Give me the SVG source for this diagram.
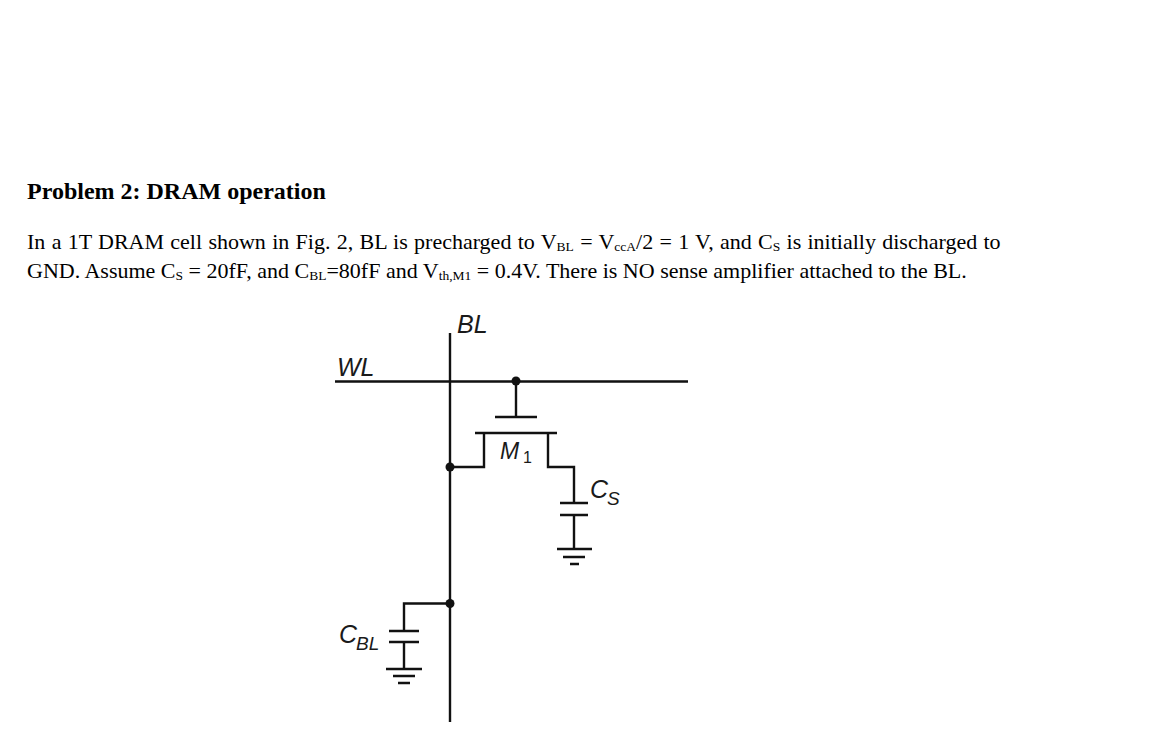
<svg xmlns="http://www.w3.org/2000/svg" width="1152" height="752" viewBox="0 0 1152 752">
<style>
.t{font-family:"Liberation Serif",serif;font-size:22px;fill:#000}
.h{font-family:"Liberation Serif",serif;font-size:24px;font-weight:bold;fill:#000}
.s{font-size:13.500px}
.l{font-family:"Liberation Sans",Arial,sans-serif;font-style:italic;fill:#1a1a1a;font-size:25px}
.w{fill:none;stroke:#111;stroke-width:2.400}
.d{fill:#111}
</style>
<rect width="1152" height="752" fill="#fff"/>
<g id="text">
<text class="h" x="27" y="199">Problem 2: DRAM operation</text>
<text class="t" x="27" y="249" word-spacing="0.800">In a 1T DRAM cell shown in Fig. 2, BL is precharged to V<tspan class="s" dy="2">BL</tspan><tspan dy="-2"> = V</tspan><tspan class="s" dy="2">ccA</tspan><tspan dy="-2">/2 = 1 V, and C</tspan><tspan class="s" dy="2">S</tspan><tspan dy="-2"> is initially discharged to</tspan></text>
<text class="t" x="27" y="278">GND. Assume C<tspan class="s" dy="2">S</tspan><tspan dy="-2"> = 20fF, and C</tspan><tspan class="s" dy="2">BL</tspan><tspan dy="-2">=80fF and V</tspan><tspan class="s" dy="2">th,M1</tspan><tspan dy="-2"> = 0.4V. There is NO sense amplifier attached to the BL.</tspan></text>
</g>
<g id="connectors">
<path class="w" d="M450 333V722M335 381.500H688"/>
<path class="w" d="M450 467H484V433M548 433V467H574V503"/>
<path class="w" d="M516 381V417"/>
<path class="w" d="M574 515V549"/>
<path class="w" d="M450 603.500H404V631M404 642V669"/>
</g>
<g id="M1">
<path class="w" d="M495 417H537M475 433H557"/>
<text class="l" x="500" y="459" style="font-size:23px">M</text>
<text class="l" x="523" y="463" style="font-size:16px;font-style:normal">1</text>
</g>
<g id="Cs">
<path class="w" d="M560 503H588M560 515H588"/>
<text class="l" x="590" y="498" style="font-size:25px">C</text>
<text class="l" x="607" y="505" style="font-size:19px">S</text>
</g>
<g id="Cs-ground"><path class="w" d="M557 549H592M563 557H585M570 564H579"/></g>
<g id="CBL">
<path class="w" d="M389 631H419M389 642H419"/>
<text class="l" x="339" y="643" style="font-size:25px">C</text>
<text class="l" x="356" y="650" style="font-size:19px">BL</text>
</g>
<g id="CBL-ground"><path class="w" d="M386 669H422M393 676H415M398 683H410"/></g>
<g id="BL"><text class="l" x="457" y="333">BL</text></g>
<g id="WL"><text class="l" x="337" y="376">WL</text></g>
<g id="dots">
<circle class="d" cx="516" cy="381" r="4.500"/>
<circle class="d" cx="450" cy="467" r="4.500"/>
<circle class="d" cx="450" cy="603.500" r="4.500"/>
</g>
</svg>
